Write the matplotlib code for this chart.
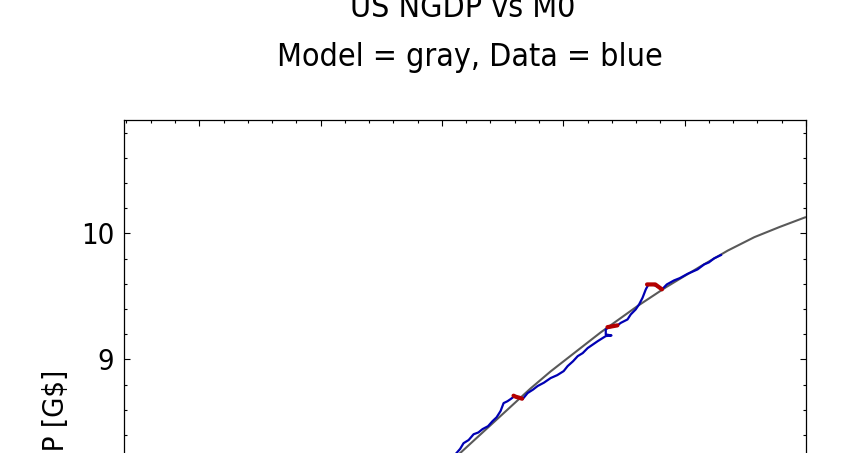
#!/usr/bin/env python3
# -*- coding: utf-8 -*-
import matplotlib
matplotlib.use("Agg")
import matplotlib.pyplot as plt
from matplotlib.ticker import MultipleLocator

# log M0 / log NGDP
MODEL_LOG_M0 = [6.00, 6.153, 6.731, 6.896, 7.309, 7.611, 7.850, 8.134, 8.299,
                8.354, 8.574, 8.780, 9.00]
MODEL_LOG_NGDP = [8.12, 8.259, 8.770, 8.905, 9.215, 9.423, 9.575, 9.740, 9.832,
                  9.863, 9.970, 10.050, 10.130]

DATA_LOG_M0 = [6.06, 6.112, 6.150, 6.178, 6.220, 6.261, 6.300, 6.335, 6.380,
               6.417, 6.450, 6.483, 6.508, 6.540, 6.566, 6.599, 6.624, 6.665,
               6.706, 6.750, 6.789, 6.840, 6.896, 6.950, 7.003, 7.036, 7.080,
               7.119, 7.160, 7.201, 7.284, 7.350, 7.397, 7.350, 7.350, 7.369,
               7.446, 7.474, 7.529, 7.556, 7.597, 7.625, 7.653, 7.680, 7.702,
               7.748, 7.818, 7.853, 7.913, 7.960, 8.024, 8.106, 8.161, 8.200,
               8.243, 8.299]
DATA_LOG_NGDP = [8.19, 8.248, 8.290, 8.335, 8.360, 8.406, 8.420, 8.447, 8.470,
                 8.510, 8.540, 8.590, 8.653, 8.668, 8.685, 8.709, 8.700, 8.685,
                 8.733, 8.760, 8.789, 8.815, 8.852, 8.875, 8.907, 8.947, 8.985,
                 9.026, 9.050, 9.090, 9.145, 9.185, 9.190, 9.198, 9.238, 9.251,
                 9.270, 9.290, 9.317, 9.357, 9.397, 9.437, 9.489, 9.556, 9.595,
                 9.590, 9.560, 9.595, 9.627, 9.645, 9.679, 9.714, 9.754, 9.770,
                 9.802, 9.828]

# recession stretches drawn in red
RECESSION_LOG_M0 = [[6.590, 6.610, 6.640, 6.660],
                    [7.364, 7.400, 7.446],
                    [7.690, 7.758, 7.813]]
RECESSION_LOG_NGDP = [[8.712, 8.703, 8.695, 8.688],
                      [9.256, 9.262, 9.270],
                      [9.595, 9.595, 9.556]]


def __draw(ax):
  """画模型曲线和数据."""
  ax.plot(MODEL_LOG_M0, MODEL_LOG_NGDP, color="#595959", lw=1.5,
          solid_capstyle="butt")
  ax.plot(DATA_LOG_M0, DATA_LOG_NGDP, color="#0000b4", lw=1.6)
  for xs, ys in zip(RECESSION_LOG_M0, RECESSION_LOG_NGDP):
    ax.plot(xs, ys, color="#b40000", lw=3.0, solid_capstyle="round")


def __cmd():
  plt.rcParams["font.family"] = ["DejaVu Sans"]
  plt.rcParams["font.stretch"] = "condensed"
  fig = plt.figure(figsize=(8.64, 4.53), dpi=100)
  # axes run below the bottom edge of the picture (the reference is cropped)
  ax = fig.add_axes([124 / 864, -0.6278, 682 / 864, 1.3629])
  __draw(ax)

  ax.set_xlim(3.38, 9.0)
  ax.set_ylim(6.0, 10.9)
  ax.xaxis.set_major_locator(MultipleLocator(1))
  ax.xaxis.set_minor_locator(MultipleLocator(0.2))
  ax.yaxis.set_major_locator(MultipleLocator(1))
  ax.yaxis.set_minor_locator(MultipleLocator(0.2))
  ax.tick_params(which="both", direction="in", top=True, right=True,
                 width=0.8, colors="black", labelbottom=False)
  ax.tick_params(which="major", length=4, labelsize=21, pad=7)
  ax.tick_params(which="minor", length=2.2)
  for s in ax.spines.values():
    s.set_linewidth(0.9)

  fig.text(463 / 864, 1 - 17 / 453, "US NGDP vs M0", ha="center",
           va="baseline", fontsize=23)
  fig.text(470 / 864, 1 - 66 / 453, "Model = gray, Data = blue", ha="center",
           va="baseline", fontsize=23)
  fig.text(56 / 864, 1 - 370 / 453, "log NGDP [G$]", rotation=90, ha="center",
           va="top", fontsize=21)

  fig.savefig("out.png", dpi=100)


if __name__ == '__main__':
  __cmd()
